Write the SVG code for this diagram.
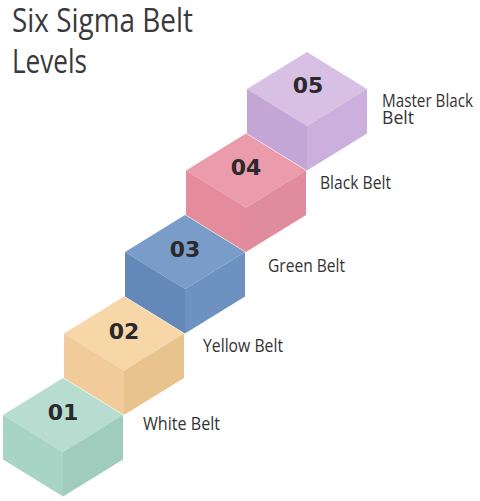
<svg xmlns="http://www.w3.org/2000/svg" width="480" height="501" viewBox="0 0 480 501">
<style>
.title{font-family:"Open Sans","Liberation Sans",sans-serif;font-size:33px;fill:#3a3a3c}
.lbl{font-family:"Open Sans","Liberation Sans",sans-serif;font-size:18.5px;fill:#333335}
.num{font-family:"DejaVu Sans","Liberation Sans",sans-serif;font-weight:bold;font-size:22px;fill:#2b292c;text-anchor:middle}
</style>
<rect width="480" height="501" fill="#ffffff"/>
<g id="title">
<text class="title" x="12" y="32" textLength="181" lengthAdjust="spacingAndGlyphs">Six Sigma Belt</text>
<text class="title" x="12" y="73" textLength="75" lengthAdjust="spacingAndGlyphs">Levels</text>
</g>
<g id="connectors"></g>
<g id="cube5">
<polygon points="307,52 367,89 307,126 247,89" fill="#d8bfe4"/>
<polygon points="247,89 307,126 307,170.5 247,133.5" fill="#c3a6d5"/>
<polygon points="307,126 367,89 367,133.5 307,170.5" fill="#cbafdc"/>
<text class="num" x="308" y="93">05</text>
<text class="lbl" x="382" y="107" textLength="91" lengthAdjust="spacingAndGlyphs">Master Black</text>
<text class="lbl" x="382" y="124" textLength="32" lengthAdjust="spacingAndGlyphs">Belt</text>
</g>
<g id="cube4">
<polygon points="246,133.5 306,170.5 246,207.5 186,170.5" fill="#eb9cab"/>
<polygon points="186,170.5 246,207.5 246,252 186,215" fill="#e48b9c"/>
<polygon points="246,207.5 306,170.5 306,215 246,252" fill="#e08c9d"/>
<text class="num" x="246" y="175">04</text>
<text class="lbl" x="320" y="189" textLength="71" lengthAdjust="spacingAndGlyphs">Black Belt</text>
</g>
<g id="cube3">
<polygon points="185,215 245,252 185,289 125,252" fill="#7a9cc9"/>
<polygon points="125,252 185,289 185,333.5 125,296.5" fill="#6488b8"/>
<polygon points="185,289 245,252 245,296.5 185,333.5" fill="#6d92c2"/>
<text class="num" x="185" y="257">03</text>
<text class="lbl" x="268" y="272" textLength="77" lengthAdjust="spacingAndGlyphs">Green Belt</text>
</g>
<g id="cube2">
<polygon points="124,296.5 184,333.5 124,370.5 64,333.5" fill="#f7d6a8"/>
<polygon points="64,333.5 124,370.5 124,415 64,378" fill="#f1cc9a"/>
<polygon points="124,370.5 184,333.5 184,378 124,415" fill="#e9c38e"/>
<text class="num" x="124" y="339">02</text>
<text class="lbl" x="203" y="352" textLength="80" lengthAdjust="spacingAndGlyphs">Yellow Belt</text>
</g>
<g id="cube1">
<polygon points="63,378 123,415 63,452 3,415" fill="#b6ddd0"/>
<polygon points="3,415 63,452 63,496.5 3,459.5" fill="#a8d4c5"/>
<polygon points="63,452 123,415 123,459.5 63,496.5" fill="#9fccbd"/>
<text class="num" x="63" y="420">01</text>
<text class="lbl" x="143" y="430" textLength="77" lengthAdjust="spacingAndGlyphs">White Belt</text>
</g>
</svg>
